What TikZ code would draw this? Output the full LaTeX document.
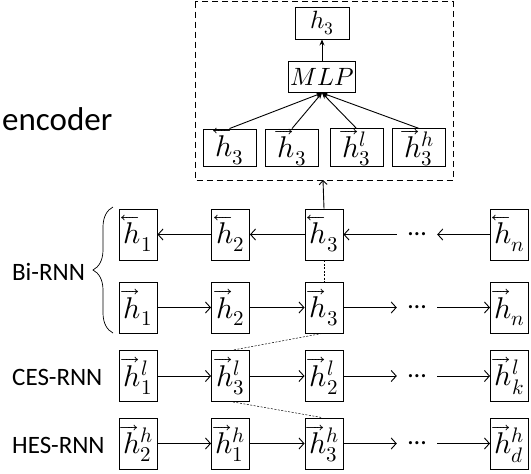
\documentclass[tikz,border=0pt]{standalone}
\usepackage{fontspec}
\usepackage{unicode-math}
\setmainfont{Carlito}
\setmathfont{Latin Modern Math}
\usetikzlibrary{arrows.meta,decorations.pathreplacing}
\newcommand{\rv}{\overrightarrow{h}}
\newcommand{\lv}{\overleftarrow{h}}
\tikzset{
  cell/.style={draw, line width=0.9pt, minimum width=38pt, minimum height=51pt, inner sep=0pt, font=\fontsize{30}{32}\selectfont},
  wcell/.style={draw, line width=0.9pt, minimum width=53pt, minimum height=37pt, inner sep=0pt, font=\fontsize{30}{32}\selectfont},
  tcell/.style={draw, line width=0.9pt, minimum height=32pt, inner sep=0pt, font=\fontsize{25}{27}\selectfont},
  dots/.style={minimum width=40pt, inner sep=0pt, font=\fontsize{26}{28}\selectfont},
  lab/.style={font=\fontsize{25}{28}\selectfont, inner sep=0pt},
  rarr/.style={line width=0.9pt, -{Straight Barb[length=5pt,width=11pt]}},
  tarr/.style={line width=0.9pt, -{Stealth[length=6pt,width=5pt]}},
  dotl/.style={line width=0.5pt, dash pattern=on 2pt off 1.5pt},
}
\begin{document}
\begin{tikzpicture}[x=1pt,y=-1pt]
\useasboundingbox (0,0) rectangle (531,474);
% encoder box
\draw[line width=0.9pt, dash pattern=on 6pt off 4pt] (195,1.5) rectangle (453,180);
\coordinate (boxb) at (323,180);
\node[tcell, minimum width=54pt] (top) at (322,23) {$h_3$};
\node[tcell, minimum width=67pt, minimum height=31pt] (mlp) at (322,77) {$MLP$};
\node[wcell] (e1) at (229.5,147.5) {$\lv_3$};
\node[wcell] (e2) at (292,147.5) {$\rv_3$};
\node[wcell] (e3) at (356.5,147.5) {$\rv^l_3$};
\node[wcell] (e4) at (419,147.5) {$\rv^h_3$};
\draw[tarr] (mlp) -- (top);
\foreach \n in {e1,e2,e3,e4} \draw[tarr] (\n.north) -- (mlp.south);
\node[font=\fontsize{33}{36}\selectfont, anchor=base west, inner sep=0pt] (enc) at (2,130) {encoder};
% rows
\node[cell] (a1) at (138,234.5) {$\lv_1$};
\node[cell] (a2) at (230.5,234.5) {$\lv_2$};
\node[cell] (a3) at (324,234.5) {$\lv_3$};
\node[dots] (ad) at (417,234.5) {…};
\node[cell] (an) at (509.5,234.5) {$\lv_n$};
\node[cell] (b1) at (138,307.5) {$\rv_1$};
\node[cell] (b2) at (230.5,307.5) {$\rv_2$};
\node[cell] (b3) at (324,307.5) {$\rv_3$};
\node[dots] (bd) at (417,307.5) {…};
\node[cell] (bn) at (509.5,307.5) {$\rv_n$};
\node[cell] (c1) at (138,376) {$\rv^l_1$};
\node[cell] (c2) at (230.5,376) {$\rv^l_3$};
\node[cell] (c3) at (324,376) {$\rv^l_2$};
\node[dots] (cd) at (417,376) {…};
\node[cell] (cn) at (509.5,376) {$\rv^l_k$};
\node[cell] (d1) at (138,443.5) {$\rv^h_2$};
\node[cell] (d2) at (230.5,443.5) {$\rv^h_1$};
\node[cell] (d3) at (324,443.5) {$\rv^h_3$};
\node[dots] (dd) at (417,443.5) {…};
\node[cell] (dn) at (509.5,443.5) {$\rv^h_d$};
% backward row
\draw[rarr] (a2) -- (a1);
\draw[rarr] (a3) -- (a2);
\draw[rarr] (ad) -- (a3);
\draw[rarr] (an) -- (ad);
% forward rows
\foreach \r in {b,c,d}{
  \draw[rarr] (\r1) -- (\r2);
  \draw[rarr] (\r2) -- (\r3);
  \draw[rarr] (\r3) -- (\r d);
  \draw[rarr] (\r d) -- (\r n);
}
% to encoder
\draw[line width=0.9pt, -{Straight Barb[length=4pt,width=8pt]}] (a3.north) -- (boxb);
% dotted links
\draw[dotl] (a3.south) -- (b3.north);
\draw[dotl] ([xshift=-2pt]b3.south) -- ([xshift=2.5pt]c2.north);
\draw[dotl] ([xshift=2.5pt]c2.south) -- ([xshift=-2pt]d3.north);
% labels
\draw[line width=0.7pt, decorate, decoration={brace, amplitude=20pt}] (113,333) -- (113,207);
\node[lab] (lbi) at (48.5,272) {Bi-RNN};
\node[lab, anchor=west] (lces) at (12,377) {CES-RNN};
\node[lab, anchor=west] (lhes) at (12,445) {HES-RNN};
\end{tikzpicture}
\end{document}
